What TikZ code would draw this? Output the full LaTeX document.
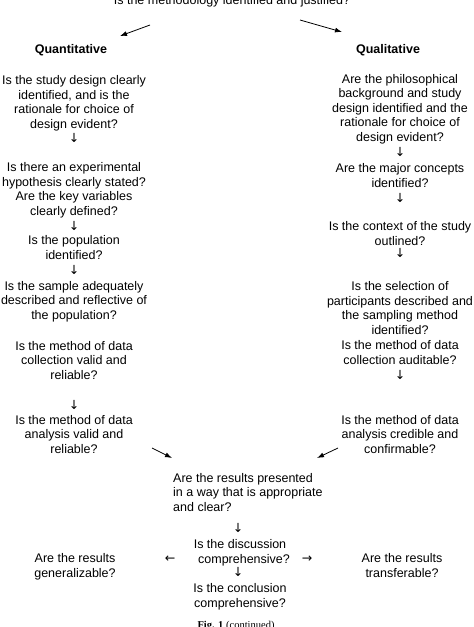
\documentclass[tikz,border=0pt]{standalone}
\usepackage{fontspec}
\setmainfont{Liberation Sans}
\newfontfamily\capfont{Liberation Serif}
\newfontfamily\arrfont{DejaVu Sans}
\usetikzlibrary{arrows.meta}
\newcommand{\qfont}{\fontsize{12.5}{14.4}\selectfont}

\begin{document}
\begin{tikzpicture}[x=1pt, y=-1pt,
  every node/.style={font=\qfont, inner sep=0pt, anchor=base, align=center},
  arr/.style={font=\arrfont\fontsize{12.5}{13}\selectfont},
  diag/.style={-{Latex[length=7pt,width=5pt]}, line width=0.8pt}]
  \useasboundingbox (0,0) rectangle (474,627);
  % Top
  \node (top) at (232,4) {Is the methodology identified and justified?};
  \node[font=\qfont\bfseries] (quan) at (71,53) {Quantitative};
  \node[font=\qfont\bfseries] (qual) at (388,53) {Qualitative};
  \coordinate (tq0) at (150,25); \coordinate (tq1) at (120,36);
  \coordinate (tl0) at (300,20); \coordinate (tl1) at (342,32);
  \draw[diag] (tq0) -- (tq1);
  \draw[diag] (tl0) -- (tl1);
  % Quantitative (nodes sit on their last line)
  \node (qt1) at (74,128) {Is the study design clearly\\identified, and is the\\rationale for choice of\\design evident?};
  \node (qt2) at (74,215) {Is there an experimental\\hypothesis clearly stated?\\Are the key variables\\clearly defined?};
  \node (qt3) at (74,259) {Is the population\\identified?};
  \node (qt4) at (74,319) {Is the sample adequately\\described and reflective of\\the population?};
  \node (qt5) at (74,379) {Is the method of data\\collection valid and\\reliable?};
  \node (qt6) at (74,453) {Is the method of data\\analysis valid and\\reliable?};
  % Qualitative
  \node (ql1) at (400,141) {Are the philosophical\\background and study\\design identified and the\\rationale for choice of\\design evident?};
  \node (ql2) at (400,187) {Are the major concepts\\identified?};
  \node (ql3) at (400,245) {Is the context of the study\\outlined?};
  \node (ql4) at (400,334) {Is the selection of\\participants described and\\the sampling method\\identified?};
  \node (ql5) at (400,364) {Is the method of data\\collection auditable?};
  \node (ql6) at (400,453) {Is the method of data\\analysis credible and\\confirmable?};
  % Small arrows
  \foreach \n/\x/\y in {1/74/142, 2/74/230, 3/74/274, 4/74/409, 5/400/156, 6/400/202, 7/400/257, 8/400/379, 9/238/532, 10/238/576}
    \node[arr] (d\n) at (\x,\y) {↓};
  \node[arr] (dl) at (170,562) {←};
  \node[arr] (dr) at (307,562) {→};
  % Results
  \coordinate (rq0) at (152,448); \coordinate (rq1) at (172,458);
  \coordinate (rl0) at (338,448); \coordinate (rl1) at (317,458);
  \draw[diag] (rq0) -- (rq1);
  \draw[diag] (rl0) -- (rl1);
  \node[align=left, anchor=base west] (res) at (173,511) {Are the results presented\\in a way that is appropriate\\and clear?};
  \node (disc) at (240,563) {Is the discussion\\\hspace*{8pt}comprehensive?};
  \node (conc) at (240,607) {Is the conclusion\\comprehensive?};
  \node (gen) at (75,577) {Are the results\\generalizable?};
  \node (trans) at (402,577) {Are the results\\transferable?};
  \node[font=\capfont\fontsize{10.5}{12}\selectfont] (fig) at (236,628) {\textbf{Fig. 1} (continued)};
\end{tikzpicture}
\end{document}
